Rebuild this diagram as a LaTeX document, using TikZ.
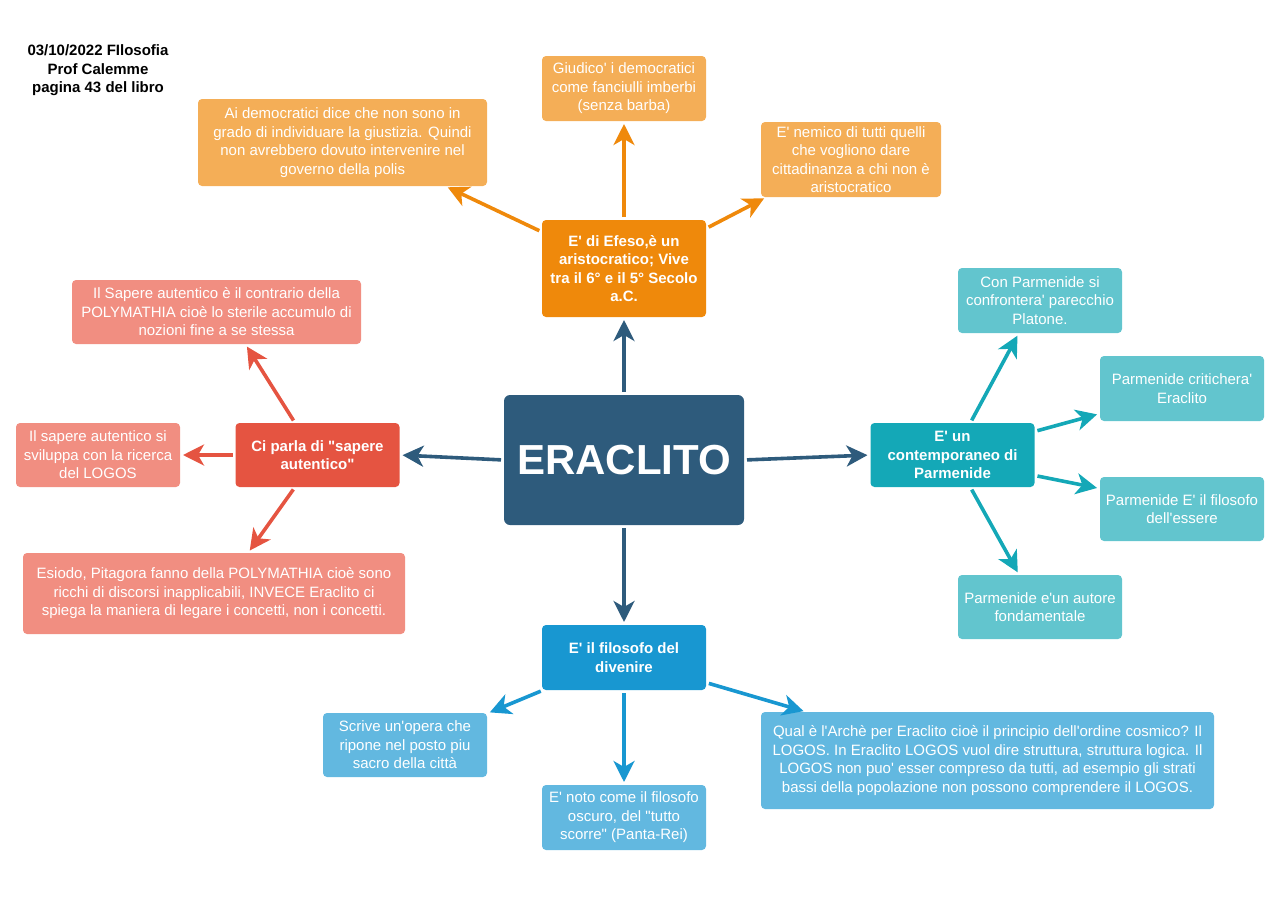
\documentclass[tikz,border=0pt]{standalone}
\usepackage{fontspec}
\setmainfont{Liberation Sans}
\usetikzlibrary{positioning, arrows.meta}
\newcommand{\ap}{\textquotesingle}
\newcommand{\dq}{\textquotedbl}
\definecolor{hubblue}{HTML}{2E5B7C}
\definecolor{orgdark}{HTML}{EF890B}
\definecolor{orglight}{HTML}{F4AE57}
\definecolor{reddark}{HTML}{E55441}
\definecolor{redlight}{HTML}{F18E81}
\definecolor{tealdark}{HTML}{14A8B7}
\definecolor{teallight}{HTML}{62C5CE}
\definecolor{bluedark}{HTML}{1897D1}
\definecolor{bluelight}{HTML}{62B8E0}
\tikzset{
  title/.style={
      font=\bfseries\fontsize{15}{18.5}\selectfont,
      align=center
    },
  hub/.style={
      rectangle,
      rounded corners=6pt,
      fill=hubblue,
      text=white,
      minimum width=240pt,
      minimum height=130pt,
      font=\bfseries\fontsize{42}{48}\selectfont,
      inner sep=0pt,
      outer sep=0pt
    },
  branch/.style={
      rectangle,
      rounded corners=4pt,
      fill=#1,
      text=white,
      minimum width=164pt,
      minimum height=64pt,
      font=\bfseries\fontsize{15}{18.5}\selectfont,
      align=center,
      inner sep=0pt,
      outer sep=0pt
    },
  leaf/.style={
      rectangle,
      rounded corners=4pt,
      fill=#1,
      text=white,
      minimum width=164pt,
      minimum height=65pt,
      font=\fontsize{15}{18.5}\selectfont,
      align=center,
      inner sep=0pt,
      outer sep=0pt
    },
  arr/.style={
      -{Stealth[length=21pt,width=21pt,inset=6pt]},
      line width=3.6pt,
      draw=#1,
      shorten <=3pt,
      shorten >=3pt
    }
}
\begin{document}
\begin{tikzpicture}[x=1pt,y=-1pt]
  \useasboundingbox (0,0) rectangle (1280,908);
  \node[title] (header) at (98,70.5) {03/10/2022 FIlosofia\\Prof Calemme\\pagina 43 del libro};

  \node[hub] (eraclito) at (624,460) {ERACLITO};

  \node[branch=orgdark, minimum height=97pt] (efeso) at (624,268.5) {E\ap{} di Efeso,è un\\aristocratico; Vive\\tra il 6° e il 5° Secolo\\a.C.};
  \node[leaf=orglight, minimum width=289pt, minimum height=87pt] (democr) at (342.5,142.5) {Ai democratici dice che non sono in\\grado di individuare la giustizia. Quindi\\non avrebbero dovuto intervenire nel\\governo della polis};
  \node[leaf=orglight] (giudico) at (624,88.5) {Giudico\ap{} i democratici\\come fanciulli imberbi\\(senza barba)};
  \node[leaf=orglight, minimum width=180pt, minimum height=75pt] (nemico) at (851,159.5) {E\ap{} nemico di tutti quelli\\che vogliono dare\\cittadinanza a chi non è\\aristocratico};

  \node[branch=reddark] (sapere) at (317.5,455) {Ci parla di \dq{}sapere\\autentico\dq};
  \node[leaf=redlight, minimum width=289pt, minimum height=64pt] (polymath) at (216.5,312) {Il Sapere autentico è il contrario della\\POLYMATHIA cioè lo sterile accumulo di\\nozioni fine a se stessa};
  \node[leaf=redlight, minimum height=64pt] (logosric) at (98,455) {Il sapere autentico si\\sviluppa con la ricerca\\del LOGOS};
  \node[leaf=redlight, minimum width=382pt, minimum height=81pt] (esiodo) at (214,593.5) {Esiodo, Pitagora fanno della POLYMATHIA cioè sono\\ricchi di discorsi inapplicabili, INVECE Eraclito ci\\spiega la maniera di legare i concetti, non i concetti.};

  \node[branch=tealdark] (parm) at (952.5,455) {E\ap{} un\\contemporaneo di\\Parmenide};
  \node[leaf=teallight] (platone) at (1040,300.5) {Con Parmenide si\\confrontera\ap{} parecchio\\Platone.};
  \node[leaf=teallight] (critica) at (1182,388.5) {Parmenide critichera\ap\\Eraclito};
  \node[leaf=teallight, minimum height=64pt] (essere) at (1182,509) {Parmenide E\ap{} il filosofo\\dell\ap{}essere};
  \node[leaf=teallight, minimum height=64pt] (fondam) at (1040,607) {Parmenide e\ap{}un autore\\fondamentale};

  \node[branch=bluedark, minimum height=65pt] (divenire) at (624,657.5) {E\ap{} il filosofo del\\divenire};
  \node[leaf=bluelight, minimum height=64pt] (scrive) at (405,745) {Scrive un\ap{}opera che\\ripone nel posto piu\\sacro della città};
  \node[leaf=bluelight] (oscuro) at (624,817.5) {E\ap{} noto come il filosofo\\oscuro, del \dq{}tutto\\scorre\dq{} (Panta-Rei)};
  \node[leaf=bluelight, minimum width=453pt, minimum height=97pt] (arche) at (987.5,760.5) {Qual è l\ap{}Archè per Eraclito cioè il principio dell\ap{}ordine cosmico? Il\\LOGOS. In Eraclito LOGOS vuol dire struttura, struttura logica. Il\\LOGOS non puo\ap{} esser compreso da tutti, ad esempio gli strati\\bassi della popolazione non possono comprendere il LOGOS.};

  \draw[arr=hubblue] (eraclito.north) -- (efeso.south);
  \draw[arr=hubblue] (eraclito.west) -- (sapere.east);
  \draw[arr=hubblue] (eraclito.east) -- (parm.west);
  \draw[arr=hubblue] (eraclito.south) -- (divenire.north);

  \draw[arr=orgdark] (efeso.north) -- (giudico.south);
  \draw[arr=orgdark] (efeso.156) -- (democr.337);
  \draw[arr=orgdark] (efeso.26) -- (nemico.204);

  \draw[arr=reddark] (sapere.125) -- (polymath.312);
  \draw[arr=reddark] (sapere.west) -- (logosric.east);
  \draw[arr=reddark] (sapere.235) -- (esiodo.50);

  \draw[arr=tealdark] (parm.61) -- (platone.237);
  \draw[arr=tealdark] (parm.16) -- (critica.197);
  \draw[arr=tealdark] (parm.346) -- (essere.166);
  \draw[arr=tealdark] (parm.299) -- (fondam.123);

  \draw[arr=bluedark] (divenire.202) -- (scrive.21);
  \draw[arr=bluedark] (divenire.south) -- (oscuro.north);
  \draw[arr=bluedark] (divenire.343) -- (arche.165);
\end{tikzpicture}
\end{document}
